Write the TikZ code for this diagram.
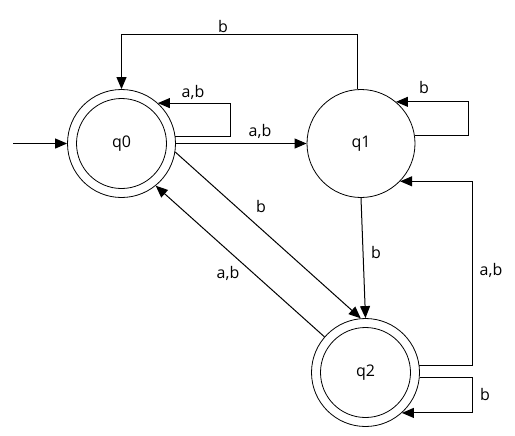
\documentclass[tikz,border=0pt]{standalone}
\usepackage{fontspec}
\setmainfont{Open Sans}
\usetikzlibrary{arrows.meta}

\begin{document}
\begin{tikzpicture}[x=0.75pt,y=0.75pt,yscale=-1,xscale=1,
	state/.style={draw, circle, minimum size=81pt, inner sep=0pt, line width=0.6pt, font=\fontsize{12}{14}\selectfont},
	edge/.style={-{Triangle[length=9pt,width=7.5pt]}, line width=0.75pt},
	lbl/.style={inner sep=0pt, font=\fontsize{12}{14}\selectfont}]
	\useasboundingbox (0,0) rectangle (515,436);
	
	%States
	\node[state] (q0) at (121.5,143.5) {q0};
	\draw [line width=0.6pt] (q0.center) circle (45);
	\node[state] (q1) at (361,143.5) {q1};
	\node[state] (q2) at (365.5,372.5) {q2};
	\draw [line width=0.6pt] (q2.center) circle (45);
	\coordinate (start) at (13,143.5);
	
	%Transitions
	\draw[edge] (start) -- (q0);
	\draw[edge] (q0) -- (q1);
	\draw[edge] (q0.7) -- ++(55,0) |- (q0.48);
	\draw[edge] (q1.94) -- ++(0,-55) -| (q0.north);
	\draw[edge] (q1.8) -- ++(54,0) |- (q1.50);
	\draw[edge] (q1.south) -- (q2.north);
	\draw[edge] (q0.-9) -- (q2.95);
	\draw[edge] (q2.139.5) -- (q0.-51.5);
	\draw[edge] (q2.7) -- ++(53,0) |- (q1.-44);
	\draw[edge] (q2.-5) -- ++(53,0) |- (q2.-48);
	
	%Labels
	\node[lbl] (l01) at (260,131) {a,b};
	\node[lbl] (l00) at (193,92) {a,b};
	\node[lbl] (l10) at (223,26) {b};
	\node[lbl] (l11) at (424,87) {b};
	\node[lbl] (l12) at (376,252) {b};
	\node[lbl] (l02) at (261,206) {b};
	\node[lbl] (l20) at (228,273) {a,b};
	\node[lbl] (l21) at (491,270) {a,b};
	\node[lbl] (l22) at (485,394) {b};
	
\end{tikzpicture}
\end{document}
